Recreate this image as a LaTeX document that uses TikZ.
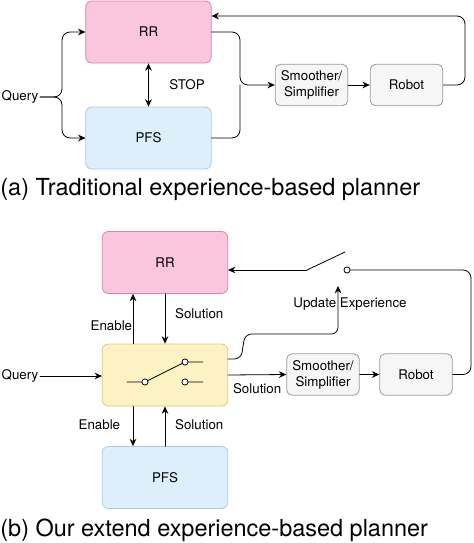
\documentclass[tikz,border=0pt]{standalone}
\usepackage{fontspec}
\setmainfont{TeX Gyre Heros}
\usetikzlibrary{arrows.meta}
\definecolor{rrfill}{HTML}{F9C6DE}
\definecolor{rrline}{HTML}{D982AE}
\definecolor{pfsfill}{HTML}{DCEFFB}
\definecolor{pfsline}{HTML}{A9CBE6}
\definecolor{swfill}{HTML}{FCF2C4}
\definecolor{swline}{HTML}{DDCB7A}
\definecolor{grfill}{HTML}{F6F6F6}
\definecolor{grline}{HTML}{9A9A9A}
\tikzset{plbox/.style={draw,rounded corners=4.5pt,minimum width=94pt,minimum height=46.5pt,inner sep=0pt},
    smbox/.style={draw=grline,fill=grfill,rounded corners=4pt,minimum width=54.5pt,minimum height=31pt,inner sep=0pt,align=center},
    capt/.style={anchor=west,inner sep=0pt,font=\fontsize{17.6}{20}\selectfont}}
\begin{document}
\begin{tikzpicture}[line cap=round, line join=round, x=0.75pt, y=-0.75pt, line width=0.6pt, >={Stealth[length=5.5pt,width=5pt]}, font=\fontsize{10}{12}\selectfont]
            \useasboundingbox(0,0)rectangle(474,543);
            % (a)
            \node[plbox,draw=rrline,fill=rrfill](rrA)at(148.5,32){RR};
            \node[plbox,draw=pfsline,fill=pfsfill](pfsA)at(148.5,138){PFS};
            \node[smbox](smA)at(311.5,85){Smoother/\\Simplifier};
            \node[smbox](robA)at(406.5,85){Robot};
            \node[inner sep=1pt](qA)at(20,97){Query};
            \draw[->,rounded corners=6pt](qA.east)--(62,97)--(62,32)--(rrA.west);
            \draw[->,rounded corners=6pt](qA.east)--(62,97)--(62,138)--(pfsA.west);
            \draw[<->](rrA.south)--(pfsA.north)node[midway,right=12pt]{STOP};
            \draw[->,rounded corners=6pt](rrA.east)--(240,32)--(240,85)--(smA.west);
            \draw[rounded corners=6pt](pfsA.east)--(240,138)--(240,85);
            \draw[->](smA)--(robA);
            \draw[->,rounded corners=6pt](robA.east)--(465,85)--(465,16)--([yshift=12pt]rrA.east);
            \node[capt](capA)at(0,190){(a) Traditional experience-based planner};
            % (b)
            \node[plbox,draw=rrline,fill=rrfill](rrB)at(165,262.5){RR};
            \node[plbox,draw=swline,fill=swfill](swB)at(165,375){};
            \node[plbox,draw=pfsline,fill=pfsfill](pfsB)at(165,477.5){PFS};
            \node[smbox](smB)at(323,374.5){Smoother/\\Simplifier};
            \node[smbox](robB)at(416,374.5){Robot};
            \node[inner sep=1pt](qB)at(20,376){Query};
            \draw[->](qB.east)--(qB.east-|swB.west);
            \draw[->]([xshift=-24pt]swB.north)--([xshift=-24pt]rrB.south)node[pos=0.35,left=-3pt]{Enable};
            \draw[->](rrB.south)--(swB.north)node[pos=0.4,right=4pt]{Solution};
            \draw[->]([xshift=-24pt]swB.south)--([xshift=-24pt]pfsB.north)node[pos=0.45,left=6pt]{Enable};
            \draw[->](pfsB.north)--(swB.south)node[pos=0.55,right=4pt]{Solution};
            % switch in the selector
            \foreach \x/\y in{145/382,185/382,185/362}
            \draw[fill=white](\x,\y)circle(2.3pt);
            \draw(127,382)--(142,382)(147,381)--(183,363)(188,362)--(203,362)(188,382)--(203,382);
            \draw[->](swB.east)--(smB.west)node[midway,below=3pt]{Solution};
            \draw[->](smB)--(robB);
            % experience switch
            \coordinate(upd)at(338,286);
            \coordinate(piv)at(307,270);
            \node[draw,circle,fill=white,inner sep=0pt,minimum size=4.6pt](swc)at(347,270){};
            \node(updL)at(350,304){Update Experience};
            \draw[->,rounded corners=5pt]([yshift=12pt]swB.east)--(241,359)--(245,334)--(338,334)--(upd);
            \draw(piv)--(345,252);
            \draw[->](piv)--(piv-|rrB.east);
            \draw[rounded corners=6pt](swc.east)--(471,270)--(471,374.5)--(robB.east);
            \node[capt](capB)at(0,530){(b) Our extend experience-based planner};
        \end{tikzpicture}
\end{document}
